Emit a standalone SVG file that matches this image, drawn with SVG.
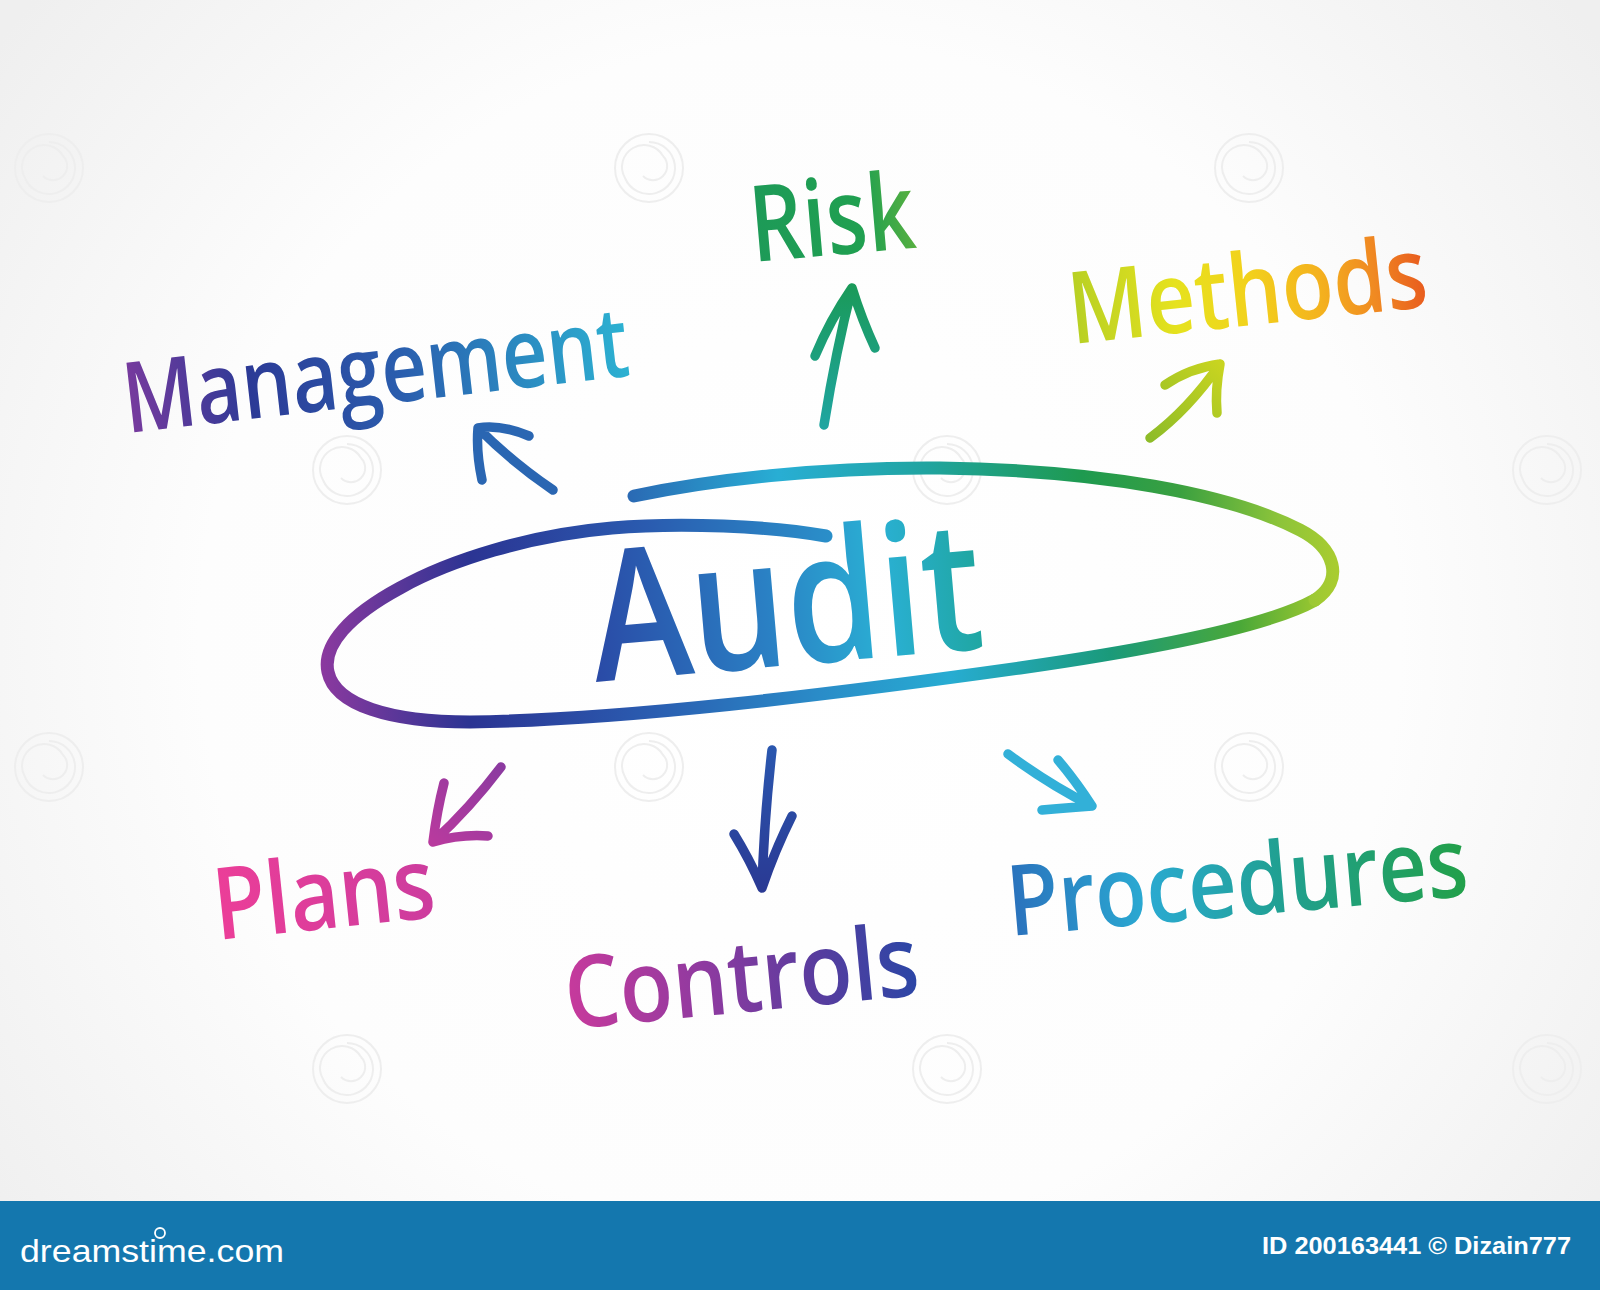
<svg xmlns="http://www.w3.org/2000/svg" width="1600" height="1290" viewBox="0 0 1600 1290">
<defs>
<radialGradient id="bg" cx="800" cy="640" r="1000" gradientUnits="userSpaceOnUse">
<stop offset="0" stop-color="#ffffff"/><stop offset="0.6" stop-color="#fdfdfd"/><stop offset="1" stop-color="#efefef"/>
</radialGradient>
<linearGradient id="gLoopA" gradientUnits="userSpaceOnUse" x1="320" y1="0" x2="1320" y2="0">
<stop offset="0" stop-color="#8c399f"/><stop offset="0.15" stop-color="#2b3493"/><stop offset="0.33" stop-color="#2a5cb0"/><stop offset="0.5" stop-color="#2a8cc8"/><stop offset="0.63" stop-color="#27acd2"/><stop offset="0.79" stop-color="#1a9a7a"/><stop offset="0.92" stop-color="#4aa838"/><stop offset="1" stop-color="#9cc830"/>
</linearGradient>
<linearGradient id="gLoopB" gradientUnits="userSpaceOnUse" x1="630" y1="0" x2="1335" y2="0">
<stop offset="0" stop-color="#2a6ab4"/><stop offset="0.21" stop-color="#28aed4"/><stop offset="0.42" stop-color="#20a4a0"/><stop offset="0.64" stop-color="#1e9a50"/><stop offset="0.78" stop-color="#3aa040"/><stop offset="0.92" stop-color="#8cc43a"/><stop offset="1" stop-color="#a8cc30"/>
</linearGradient>
<linearGradient id="gMgmt"><stop offset="0" stop-color="#7a3a9e"/><stop offset="0.25" stop-color="#2c3a96"/><stop offset="0.55" stop-color="#2a5eae"/><stop offset="1" stop-color="#2cb2d2"/></linearGradient>
<linearGradient id="gRisk"><stop offset="0" stop-color="#1d9a58"/><stop offset="0.7" stop-color="#20a050"/><stop offset="1" stop-color="#58b040"/></linearGradient>
<linearGradient id="gMethods"><stop offset="0" stop-color="#b5cf24"/><stop offset="0.3" stop-color="#e6e21e"/><stop offset="0.5" stop-color="#f2d21c"/><stop offset="0.7" stop-color="#f4b21e"/><stop offset="0.85" stop-color="#f08a22"/><stop offset="1" stop-color="#e85a1e"/></linearGradient>
<linearGradient id="gPlans"><stop offset="0" stop-color="#ec3e98"/><stop offset="1" stop-color="#cc3c9e"/></linearGradient>
<linearGradient id="gControls"><stop offset="0" stop-color="#c83a9c"/><stop offset="0.4" stop-color="#8e3aa0"/><stop offset="0.7" stop-color="#5a3c9e"/><stop offset="1" stop-color="#2a46a6"/></linearGradient>
<linearGradient id="gProc"><stop offset="0" stop-color="#2a70bc"/><stop offset="0.3" stop-color="#2aaad2"/><stop offset="0.6" stop-color="#20a090"/><stop offset="1" stop-color="#22a048"/></linearGradient>
<linearGradient id="gAudit"><stop offset="0" stop-color="#2a4aa6"/><stop offset="0.45" stop-color="#2a80c4"/><stop offset="0.75" stop-color="#2ab0d4"/><stop offset="1" stop-color="#1fa6a0"/></linearGradient>
<linearGradient id="aRisk" gradientUnits="userSpaceOnUse" x1="0" y1="288" x2="0" y2="425"><stop offset="0" stop-color="#1a9a5a"/><stop offset="1" stop-color="#1fa5a0"/></linearGradient>
<linearGradient id="aMeth" gradientUnits="userSpaceOnUse" x1="1150" y1="438" x2="1220" y2="364"><stop offset="0" stop-color="#8ebc28"/><stop offset="1" stop-color="#c8d420"/></linearGradient>
<linearGradient id="aPlans" gradientUnits="userSpaceOnUse" x1="500" y1="767" x2="433" y2="842"><stop offset="0" stop-color="#8c3aa0"/><stop offset="1" stop-color="#b83a9e"/></linearGradient>
<linearGradient id="aCtrl" gradientUnits="userSpaceOnUse" x1="0" y1="750" x2="0" y2="888"><stop offset="0" stop-color="#2a56ae"/><stop offset="1" stop-color="#2a3a94"/></linearGradient>
<g id="spiral" fill="none" stroke="#eeeeee" stroke-width="2">
<circle r="34"/><path d="M0,-26 A26,26 0 1 1 -24,10 M-24,10 A18,18 0 1 1 14,-12 M14,-12 A10,10 0 1 1 -6,8"/>
</g>
</defs>
<style>
.lbl{font-family:"Open Sans","Liberation Sans",sans-serif;font-weight:600}
.arrow{fill:none;stroke-width:9.5;stroke-linecap:round;stroke-linejoin:round}
.loop{fill:none;stroke-width:13;stroke-linecap:round;stroke-linejoin:round}
.foot{font-family:"Liberation Sans",sans-serif;fill:#ffffff}
</style>
<rect width="1600" height="1290" fill="url(#bg)"/>
<g id="watermarks">
<use href="#spiral" x="49" y="168"/><use href="#spiral" x="649" y="168"/><use href="#spiral" x="1249" y="168"/>
<use href="#spiral" x="347" y="470"/><use href="#spiral" x="947" y="470"/><use href="#spiral" x="1547" y="470"/>
<use href="#spiral" x="49" y="767"/><use href="#spiral" x="649" y="767"/><use href="#spiral" x="1249" y="767"/>
<use href="#spiral" x="347" y="1069"/><use href="#spiral" x="947" y="1069"/><use href="#spiral" x="1547" y="1069"/>
</g>
<g id="audit">
<path class="loop" stroke="url(#gLoopA)" d="M826,536 C770,526 680,522 612,528 C530,535 450,560 400,588 C350,615 322,645 328,672 C335,705 390,722 470,722 C620,720 820,696 1020,668 C1160,648 1270,625 1315,600"/>
<path class="loop" stroke="url(#gLoopB)" d="M1315,600 C1345,580 1335,548 1300,530 C1230,494 1100,470 940,468 C820,467 710,480 634,496"/>
<text class="lbl" x="596" y="682" font-size="182" textLength="392" lengthAdjust="spacingAndGlyphs" fill="url(#gAudit)" transform="rotate(-5 596 682)">Audit</text>
</g>
<g id="management"><text class="lbl" x="127" y="433" font-size="98" textLength="508" lengthAdjust="spacingAndGlyphs" fill="url(#gMgmt)" transform="rotate(-6.5 127 433)">Management</text></g>
<g id="risk"><text class="lbl" x="753" y="262" font-size="106" textLength="165" lengthAdjust="spacingAndGlyphs" fill="url(#gRisk)" transform="rotate(-5 753 262)">Risk</text></g>
<g id="methods"><text class="lbl" x="1072" y="344" font-size="100" textLength="360" lengthAdjust="spacingAndGlyphs" fill="url(#gMethods)" transform="rotate(-6 1072 344)">Methods</text></g>
<g id="plans"><text class="lbl" x="217" y="940" font-size="100" textLength="222" lengthAdjust="spacingAndGlyphs" fill="url(#gPlans)" transform="rotate(-6 217 940)">Plans</text></g>
<g id="controls"><text class="lbl" x="568" y="1029" font-size="100" textLength="355" lengthAdjust="spacingAndGlyphs" fill="url(#gControls)" transform="rotate(-5.5 568 1029)">Controls</text></g>
<g id="procedures"><text class="lbl" x="1010" y="936" font-size="98" textLength="462" lengthAdjust="spacingAndGlyphs" fill="url(#gProc)" transform="rotate(-5 1010 936)">Procedures</text></g>
<g id="connectors">
<path class="arrow" stroke="#2a66b2" d="M553,490 Q512,462 478,428 M482,480 Q476,452 478,428 M529,436 Q500,424 478,428"/>
<path class="arrow" stroke="url(#aRisk)" d="M824,425 Q836,350 852,288 M852,288 Q830,320 815,356 M852,288 Q862,320 875,348"/>
<path class="arrow" stroke="url(#aMeth)" d="M1150,438 Q1188,410 1220,364 M1220,364 Q1190,368 1165,385 M1220,364 Q1215,390 1217,413"/>
<path class="arrow" stroke="url(#aPlans)" d="M501,767 Q470,808 433,842 M433,842 Q437,810 444,783 M433,842 Q460,834 488,836"/>
<path class="arrow" stroke="url(#aCtrl)" d="M772,750 Q764,820 762,888 M762,888 Q750,860 734,834 M762,888 Q775,850 792,816"/>
<path class="arrow" stroke="#32b0d8" d="M1008,754 Q1050,785 1092,806 M1092,806 Q1075,780 1058,760 M1092,806 Q1065,808 1042,810"/>
</g>
<g id="banner">
<rect x="0" y="1201" width="1600" height="89" fill="#1477ae"/>
<circle cx="160" cy="1233" r="5" fill="none" stroke="#ffffff" stroke-width="1.8"/>
<text class="foot" x="20" y="1262" font-size="32" textLength="264" lengthAdjust="spacingAndGlyphs">dreamstime.com</text>
<text class="foot" x="1571" y="1254" font-size="24" font-weight="bold" text-anchor="end" textLength="309" lengthAdjust="spacingAndGlyphs">ID 200163441 © Dizain777</text>
</g>
</svg>
